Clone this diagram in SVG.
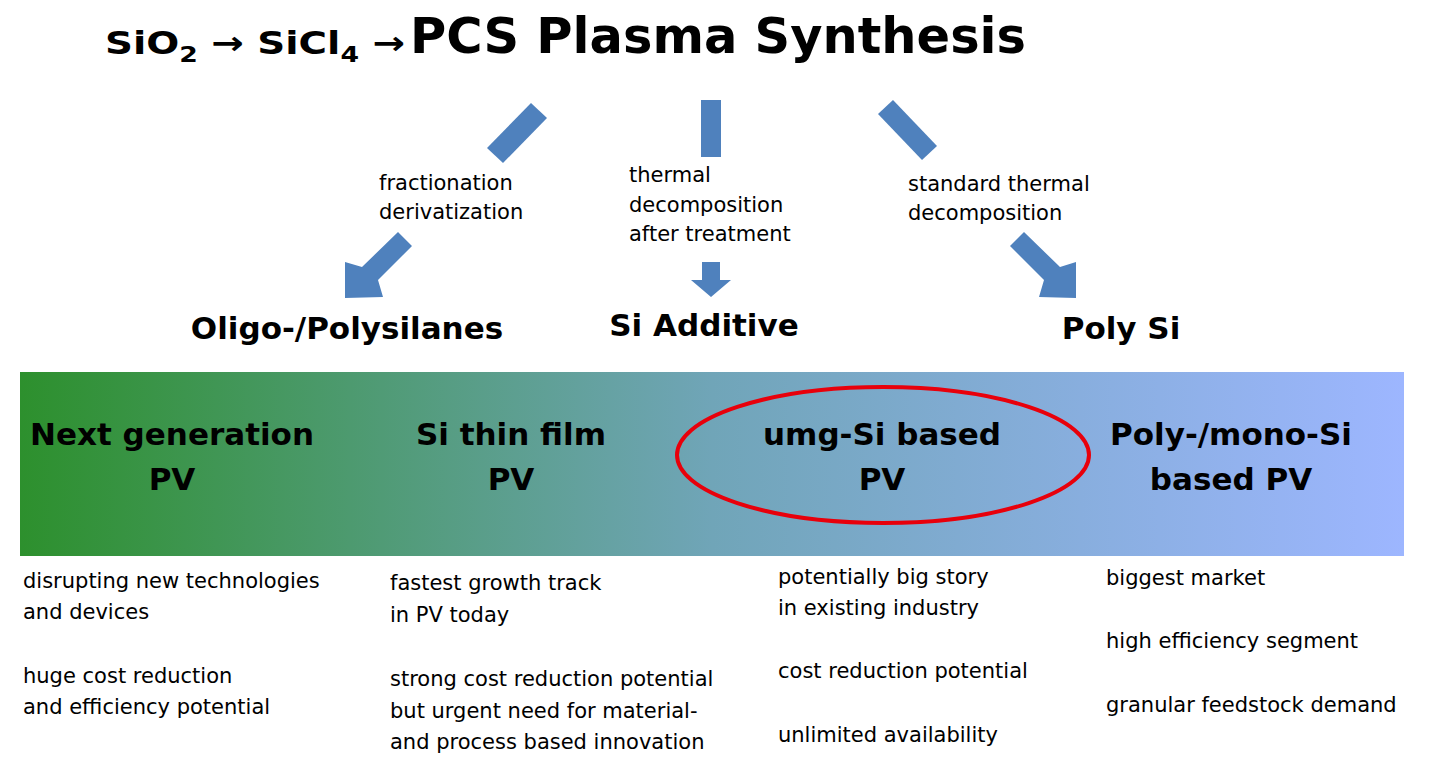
<svg xmlns="http://www.w3.org/2000/svg" width="1438" height="782" viewBox="0 0 1438 782">
<style>
text{font-family:"DejaVu Sans","Liberation Sans",sans-serif;fill:#000}
.t{font-size:21px}
.h{font-size:31px;font-weight:bold;text-anchor:middle}
.s{font-size:32px;font-weight:bold}
.a{fill:#4f81bd}
</style>
<defs><linearGradient id="g" x1="0" x2="1" y1="0" y2="0"><stop offset="0" stop-color="#2d902d"/><stop offset="0.5" stop-color="#70a5b8"/><stop offset="1" stop-color="#9db6ff"/></linearGradient></defs>
<rect width="1438" height="782" fill="#fff"/>
<g id="title">
<text x="105" y="54" class="s" textLength="300" lengthAdjust="spacingAndGlyphs">SiO<tspan font-size="22" dy="8">2</tspan><tspan dy="-8"> → SiCl</tspan><tspan font-size="22" dy="8">4</tspan><tspan dy="-8"> →</tspan></text>
<text x="410" y="53" font-size="50" font-weight="bold" textLength="616" lengthAdjust="spacingAndGlyphs">PCS Plasma Synthesis</text>
</g>
<g id="connectors">
<polygon class="a" points="531,103 547,118 503,163 487,148"/>
<polygon class="a" points="398,232 412,246 378,280 383,297 345,298 345,262 362,267"/>
<rect class="a" x="701" y="100" width="20" height="57"/>
<polygon class="a" points="702,262 720,262 720,280 731,280 711,297 691,280 702,280"/>
<polygon class="a" points="893,100 937,146 922,160 878,114"/>
<polygon class="a" points="1024,232 1010,246 1044,280 1039,297 1076,298 1076,262 1060,267"/>
<text class="t" x="379" y="190">fractionation</text>
<text class="t" x="379" y="219">derivatization</text>
<text class="t" x="629" y="182">thermal</text>
<text class="t" x="629" y="212">decomposition</text>
<text class="t" x="629" y="241">after treatment</text>
<text class="t" x="908" y="191">standard thermal</text>
<text class="t" x="908" y="220">decomposition</text>
</g>
<g id="products">
<text class="h" x="347" y="339">Oligo-/Polysilanes</text>
<text class="h" x="704" y="336">Si Additive</text>
<text class="h" x="1121" y="339">Poly Si</text>
</g>
<g id="band">
<rect x="20" y="372" width="1384" height="184" fill="url(#g)"/>
<text class="h" x="172" y="445">Next generation</text><text class="h" x="172" y="490">PV</text>
<text class="h" x="511" y="445">Si thin film</text><text class="h" x="511" y="490">PV</text>
<text class="h" x="882" y="445">umg-Si based</text><text class="h" x="882" y="490">PV</text>
<text class="h" x="1231" y="445">Poly-/mono-Si</text><text class="h" x="1231" y="490">based PV</text>
<ellipse cx="883" cy="455" rx="206" ry="68" fill="none" stroke="#e8000b" stroke-width="4"/>
</g>
<g id="notes">
<text class="t" x="23" y="588">disrupting new technologies</text>
<text class="t" x="23" y="619"> and devices</text>
<text class="t" x="23" y="683">huge cost reduction</text>
<text class="t" x="23" y="714">and efficiency potential</text>
<text class="t" x="390" y="590">fastest growth track</text>
<text class="t" x="390" y="622">in PV today</text>
<text class="t" x="390" y="686">strong cost reduction potential</text>
<text class="t" x="390" y="718">but urgent need for material-</text>
<text class="t" x="390" y="749">and process based innovation</text>
<text class="t" x="778" y="584">potentially big story</text>
<text class="t" x="778" y="615">in existing industry</text>
<text class="t" x="778" y="678">cost reduction potential</text>
<text class="t" x="778" y="742">unlimited availability</text>
<text class="t" x="1106" y="585">biggest market</text>
<text class="t" x="1106" y="648">high efficiency segment</text>
<text class="t" x="1106" y="712">granular feedstock demand</text>
</g>
</svg>
